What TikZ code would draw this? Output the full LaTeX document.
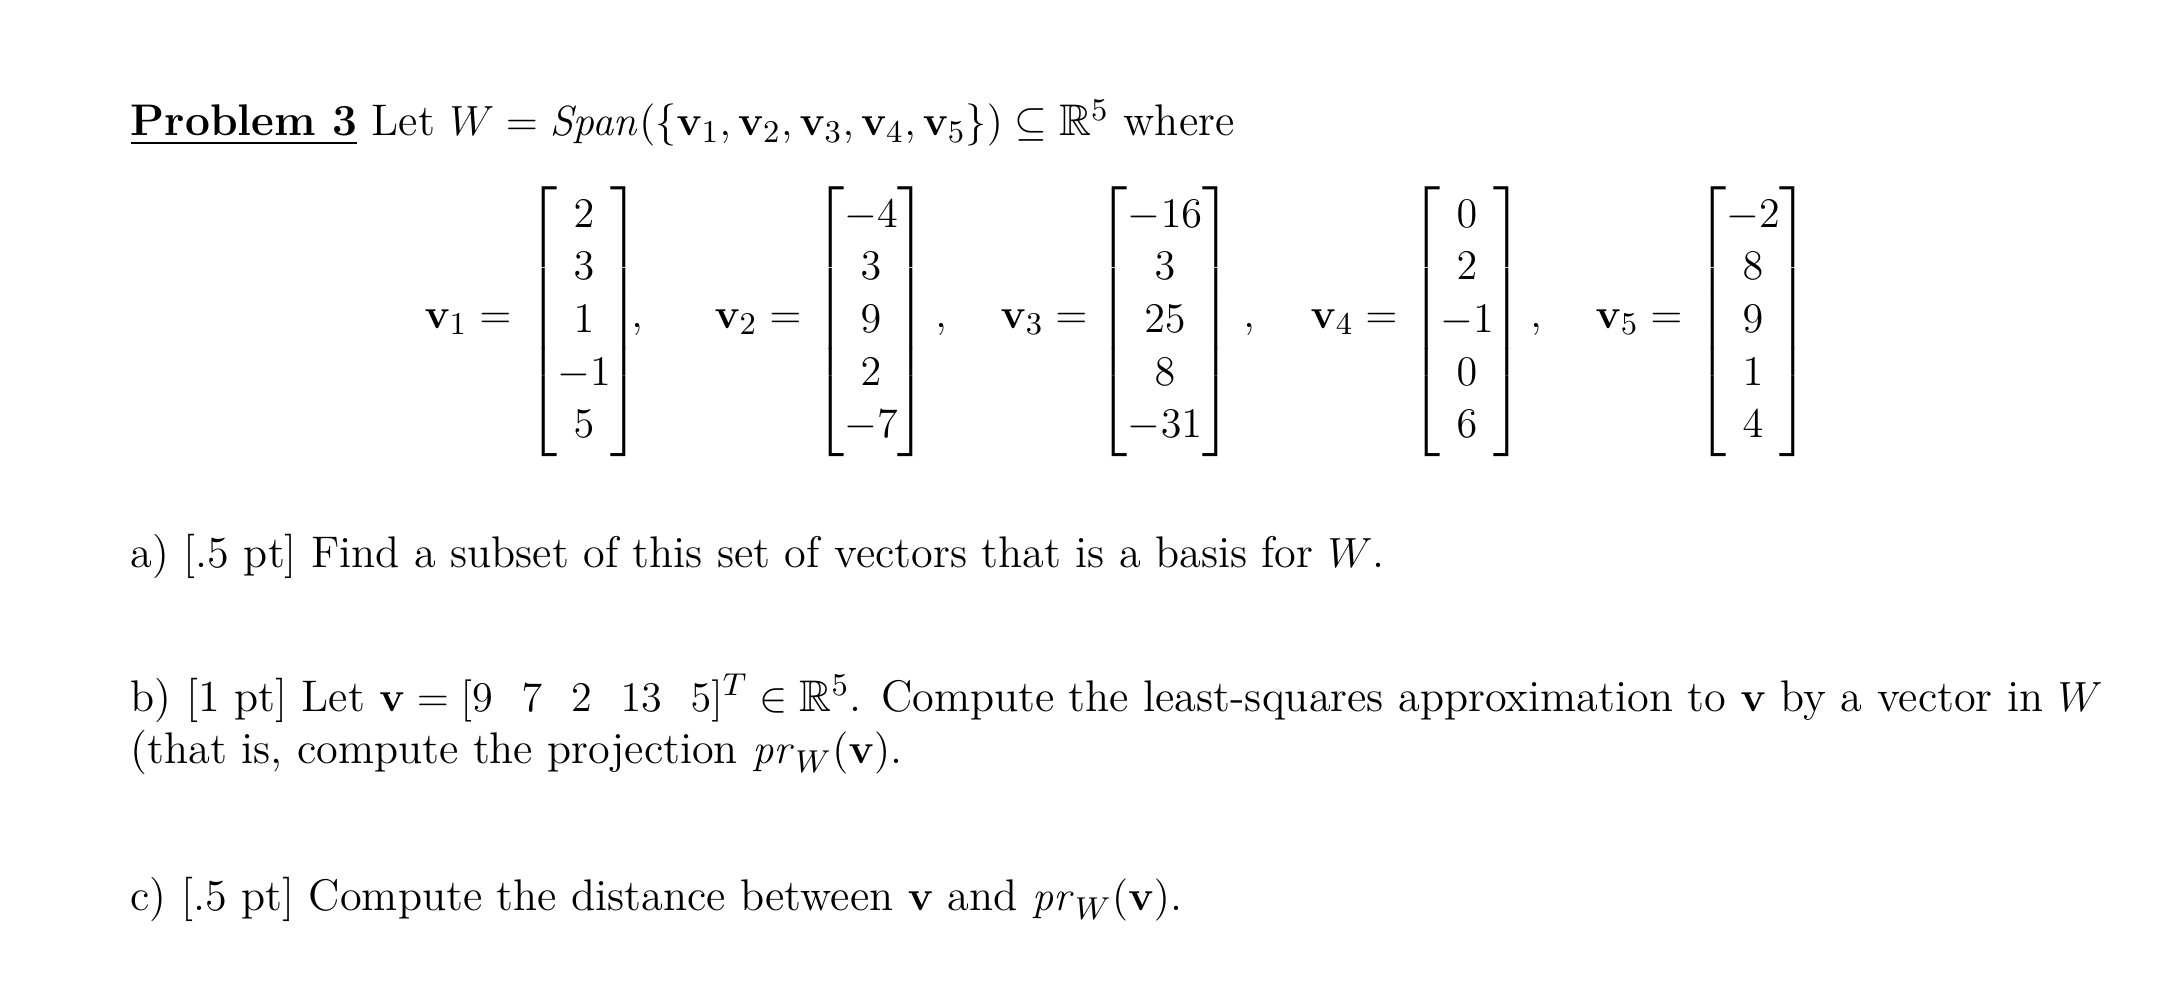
\documentclass[tikz,border=0pt]{standalone}
\usepackage{amsmath,amssymb}
\begin{document}
\begin{tikzpicture}[x=1cm,y=1cm,
  txt/.style={anchor=base west,inner sep=0pt,font=\fontsize{12.6}{16}\selectfont},
  lab/.style={anchor=west,inner sep=0pt,font=\fontsize{12.6}{16}\selectfont},
  mat/.style={inner sep=0pt,font=\fontsize{12.8}{15}\selectfont}]
\useasboundingbox (0,0) rectangle (21.82,-9.96);
\node[txt] (p) at (1.30,-1.36) {\underline{\textbf{Problem 3}} Let $W=\mathit{Span}(\{\mathbf{v}_1,\mathbf{v}_2,\mathbf{v}_3,\mathbf{v}_4,\mathbf{v}_5\})\subseteq\mathbb{R}^5$ where};
\node[lab] (l1) at (4.24,-3.22) {$\mathbf{v}_1=$};
\node[mat] (m1) at (5.84,-3.22) {$\begin{bmatrix}2\\3\\1\\-1\\5\end{bmatrix}$};
\node[mat] (c1) at (6.37,-3.30) {$,$};
\node[lab] (l2) at (7.14,-3.22) {$\mathbf{v}_2=$};
\node[mat] (m2) at (8.71,-3.22) {$\begin{bmatrix}-4\\3\\9\\2\\-7\end{bmatrix}$};
\node[mat] (c2) at (9.41,-3.30) {$,$};
\node[lab] (l3) at (10.00,-3.22) {$\mathbf{v}_3=$};
\node[mat] (m3) at (11.65,-3.22) {$\begin{bmatrix}-16\\3\\25\\8\\-31\end{bmatrix}$};
\node[mat] (c3) at (12.49,-3.30) {$,$};
\node[lab] (l4) at (13.10,-3.22) {$\mathbf{v}_4=$};
\node[mat] (m4) at (14.67,-3.22) {$\begin{bmatrix}0\\2\\-1\\0\\6\end{bmatrix}$};
\node[mat] (c4) at (15.36,-3.30) {$,$};
\node[lab] (l5) at (15.95,-3.22) {$\mathbf{v}_5=$};
\node[mat] (m5) at (17.53,-3.22) {$\begin{bmatrix}-2\\8\\9\\1\\4\end{bmatrix}$};
\node[txt] (a) at (1.30,-5.67) {a) [.5 pt] Find a subset of this set of vectors that is a basis for $W$.};
\node[txt] (b) at (1.30,-7.11) {b) [1 pt] Let $\mathbf{v}=[9\ \ 7\ \ 2\ \ 13\ \ 5]^T\in\mathbb{R}^5$. Compute the least-squares approximation to $\mathbf{v}$ by a vector in $W$};
\node[txt] (b2) at (1.30,-7.63) {(that is, compute the projection $\mathit{pr}_W(\mathbf{v})$.};
\node[txt] (c) at (1.30,-9.10) {c) [.5 pt] Compute the distance between $\mathbf{v}$ and $\mathit{pr}_W(\mathbf{v})$.};
\end{tikzpicture}
\end{document}
